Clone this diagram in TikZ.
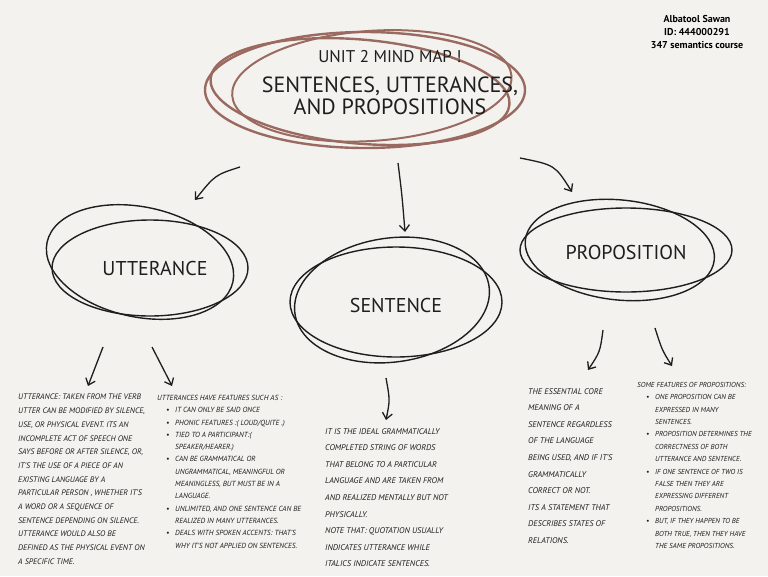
\documentclass[tikz,border=0pt]{standalone}
\usepackage{fontspec}
\setmainfont{PT Sans}
\usetikzlibrary{arrows.meta}
\definecolor{bg}{HTML}{F4F2EF}
\definecolor{brownc}{HTML}{9A6A60}
\definecolor{ink}{HTML}{1E1E1E}
\newcommand{\bul}{\makebox[9pt][l]{\textbullet}}
\newcommand{\ind}{\hspace*{9pt}}
\begin{document}
\begin{tikzpicture}[x=1pt,y=-1pt,
  small/.style={anchor=north west,align=left,font=\fontsize{7.4}{12.3}\selectfont\itshape,text=ink,inner sep=0pt},
  bodyb/.style={anchor=north west,align=left,font=\fontsize{8.3}{16.6}\selectfont\itshape,text=ink,inner sep=0pt},
  loop/.style={line width=1.4pt,draw=ink},
  arr/.style={line width=1.3pt,draw=ink,-{Straight Barb[length=6pt,width=10pt]}},
  ttl/.style={font=\fontsize{20}{22}\selectfont,text=ink}]
\fill[bg] (0,0) rectangle (768,576);
% title
\draw[brownc,line width=2.4pt] (365,90) ellipse [x radius=160,y radius=58];
\draw[brownc,line width=2.4pt,rotate around={-5:(365,92)}] (360,92) ellipse [x radius=150,y radius=52];
\draw[brownc,line width=2pt,rotate around={4:(370,88)}] (372,86) ellipse [x radius=140,y radius=55];
\node[ttl,font=\fontsize{17}{20}\selectfont] (title) at (390,57) {UNIT 2 MIND MAP !};
\node[ttl,align=center,font=\fontsize{22}{22}\selectfont] (title2) at (390,96) {SENTENCES, UTTERANCES,\\AND PROPOSITIONS};
\node[anchor=north,align=center,font=\fontsize{10}{13}\selectfont\bfseries] (name) at (697,12) {Albatool Sawan\\ID: 444000291\\347 semantics course};
% centres
\draw[loop] (150,268) ellipse [x radius=98,y radius=48];
\draw[loop,rotate around={-12:(140,262)}] (140,262) ellipse [x radius=95,y radius=55];
\node[ttl] (utt) at (155,268) {UTTERANCE};
\draw[loop] (396,302) ellipse [x radius=106,y radius=55];
\draw[loop,rotate around={8:(392,300)}] (392,300) ellipse [x radius=98,y radius=62];
\node[ttl] (sen) at (396,305) {SENTENCE};
\draw[loop] (626,250) ellipse [x radius=106,y radius=42];
\draw[loop,rotate around={-6:(620,248)}] (620,250) ellipse [x radius=95,y radius=50];
\node[ttl] (prop) at (626,252) {PROPOSITION};
% arrows
\coordinate (a1s) at (240,167); \coordinate (a1e) at (195,200);
\draw[arr] (a1s) .. controls (215,175) .. (a1e);
\coordinate (a2s) at (398,163); \coordinate (a2e) at (405,232);
\draw[arr] (a2s) .. controls (402,195) .. (a2e);
\coordinate (a3s) at (520,158); \coordinate (a3e) at (572,192);
\draw[arr] (a3s) .. controls (555,165) .. (a3e);
\coordinate (b1s) at (103,347); \coordinate (b1e) at (88,386);
\draw[arr] (b1s) -- (b1e);
\coordinate (b2s) at (152,347); \coordinate (b2e) at (172,386);
\draw[arr] (b2s) .. controls (162,365) .. (b2e);
\coordinate (c1s) at (386,378); \coordinate (c1e) at (386,420);
\draw[arr] (c1s) .. controls (390,400) .. (c1e);
\coordinate (d1s) at (603,330); \coordinate (d1e) at (588,370);
\draw[arr] (d1s) .. controls (600,352) .. (d1e);
\coordinate (d2s) at (655,328); \coordinate (d2e) at (672,366);
\draw[arr] (d2s) .. controls (662,350) .. (d2e);
% texts
\node[bodyb,font=\fontsize{8}{13.7}\selectfont\itshape] (t1) at (18,394) {UTTERANCE: TAKEN  FROM THE VERB\\UTTER CAN BE MODIFIED BY SILENCE,\\USE, OR PHYSICAL EVENT. ITS AN\\INCOMPLETE ACT OF SPEECH ONE\\SAYS BEFORE OR AFTER SILENCE, OR,\\IT'S THE USE OF A PIECE OF AN\\EXISTING LANGUAGE BY A\\PARTICULAR PERSON , WHETHER IT'S\\A WORD OR A SEQUENCE OF\\SENTENCE DEPENDING ON SILENCE.\\UTTERANCE WOULD ALSO BE\\DEFINED AS THE PHYSICAL EVENT ON\\A SPECIFIC TIME.};
\node[small] (t2) at (157,395) {UTTERANCES HAVE FEATURES SUCH AS :\\
\ind\bul IT CAN ONLY BE SAID ONCE\\
\ind\bul PHONIC FEATURES :( LOUD/QUITE .)\\
\ind\bul TIED TO A PARTICIPANT:(\\
\ind\ind SPEAKER/HEARER.)\\
\ind\bul CAN BE GRAMMATICAL OR\\
\ind\ind UNGRAMMATICAL, MEANINGFUL OR\\
\ind\ind MEANINGLESS, BUT MUST BE IN A\\
\ind\ind LANGUAGE.\\
\ind\bul UNLIMITED, AND ONE SENTENCE CAN BE\\
\ind\ind REALIZED IN MANY UTTERANCES.\\
\ind\bul DEALS WITH SPOKEN ACCENTS: THAT'S\\
\ind\ind WHY IT'S NOT APPLIED ON SENTENCES.};
\node[bodyb] (t3) at (325,428) {IT IS THE  IDEAL GRAMMATICALLY\\COMPLETED STRING OF WORDS\\THAT BELONG TO A PARTICULAR\\LANGUAGE AND ARE TAKEN FROM\\AND REALIZED MENTALLY BUT NOT\\PHYSICALLY.\\NOTE THAT: QUOTATION USUALLY\\INDICATES UTTERANCE WHILE\\ITALICS INDICATE SENTENCES.};
\node[bodyb] (t4) at (528,388) {THE ESSENTIAL CORE\\MEANING OF A\\SENTENCE REGARDLESS\\OF THE LANGUAGE\\BEING USED, AND IF IT'S\\GRAMMATICALLY\\CORRECT OR NOT.\\ITS A STATEMENT THAT\\DESCRIBES STATES OF\\RELATIONS.};
\node[small,font=\fontsize{7.2}{12.4}\selectfont\itshape] (t5) at (637,382) {SOME FEATURES OF PROPOSITIONS:\\
\ind\bul ONE PROPOSITION CAN BE\\
\ind\ind EXPRESSED IN MANY\\
\ind\ind SENTENCES.\\
\ind\bul PROPOSITION DETERMINES THE\\
\ind\ind CORRECTNESS OF BOTH\\
\ind\ind UTTERANCE AND SENTENCE.\\
\ind\bul IF ONE SENTENCE OF TWO IS\\
\ind\ind FALSE THEN THEY ARE\\
\ind\ind EXPRESSING DIFFERENT\\
\ind\ind PROPOSITIONS.\\
\ind\bul BUT, IF THEY HAPPEN TO BE\\
\ind\ind BOTH TRUE, THEN THEY HAVE\\
\ind\ind THE SAME PROPOSITIONS.};
\end{tikzpicture}
\end{document}
